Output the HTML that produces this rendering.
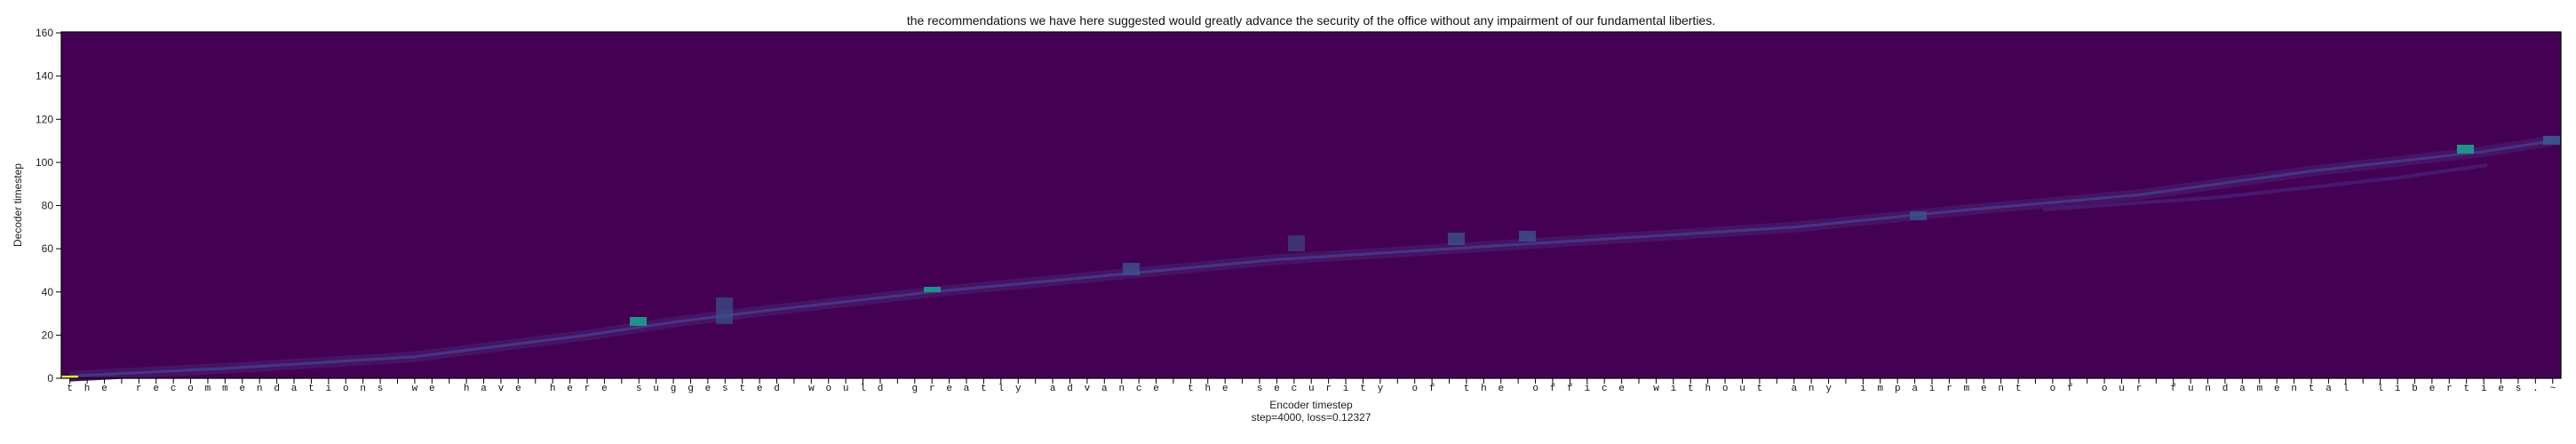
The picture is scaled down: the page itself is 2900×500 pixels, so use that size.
<!DOCTYPE html>
<html><head><meta charset="utf-8"><style>
html,body{margin:0;padding:0;background:#fff;}
body{width:2900px;height:500px;position:relative;overflow:hidden;font-family:"Liberation Sans",sans-serif;color:#111;}
.xt{position:absolute;left:75.4px;top:432px;font-family:"Liberation Mono",monospace;font-size:11px;letter-spacing:12.81px;white-space:pre;}
</style></head><body>
<svg width="2900" height="500" style="position:absolute;left:0;top:0">
<rect x="69" y="36" width="2814" height="390" fill="#440154"/>
<g fill="none" stroke-linejoin="round">
<polyline stroke="#471365" stroke-width="12" points="78.7,423.6 272.8,413.8 466.9,401.7 661,377.4 758,362.8 855.1,350.6 1049.2,328.8 1282.1,306.9 1437.4,292.3 1631.5,280.1 1825.7,268 2019.8,255.8 2213.9,236.4 2408,219.4 2602.1,192.6 2796.2,170.7 2873,158.6"/>
<polyline stroke="#453781" stroke-width="3" points="78.7,423.6 272.8,413.8 466.9,401.7 661,377.4 758,362.8 855.1,350.6 1049.2,328.8 1282.1,306.9 1437.4,292.3 1631.5,280.1 1825.7,268 2019.8,255.8 2213.9,236.4 2408,219.4 2602.1,192.6 2796.2,170.7 2873,158.6"/>
<polyline stroke="#46196e" stroke-width="4" points="2300,236 2500,222 2700,200 2800,186"/>
</g>
<rect x="69" y="423" width="19" height="3" fill="#fde725"/>
<rect x="709" y="357" width="19" height="10" fill="#21918c"/>
<rect x="806" y="335" width="19" height="30" fill="#3b528b" opacity="0.7"/>
<rect x="1040" y="323" width="19" height="6" fill="#21918c"/>
<rect x="1264" y="296" width="19" height="14" fill="#3b528b" opacity="0.8"/>
<rect x="1450" y="265" width="19" height="18" fill="#3b528b" opacity="0.6"/>
<rect x="1630" y="262" width="19" height="14" fill="#3b528b" opacity="0.8"/>
<rect x="1710" y="260" width="19" height="12" fill="#3b528b" opacity="0.8"/>
<rect x="2150" y="238" width="19" height="10" fill="#3b528b" opacity="0.8"/>
<rect x="2766" y="163" width="19" height="10" fill="#21918c"/>
<rect x="2863" y="153" width="19" height="10" fill="#3b528b"/>
<rect x="69" y="36" width="2814" height="390" fill="none" stroke="#000" stroke-width="1.2"/>
<g stroke="#000" stroke-width="1">
<line x1="63" y1="426" x2="69" y2="426"/><line x1="63" y1="377.4" x2="69" y2="377.4"/><line x1="63" y1="328.8" x2="69" y2="328.8"/><line x1="63" y1="280.1" x2="69" y2="280.1"/><line x1="63" y1="231.5" x2="69" y2="231.5"/><line x1="63" y1="182.9" x2="69" y2="182.9"/><line x1="63" y1="134.3" x2="69" y2="134.3"/><line x1="63" y1="85.7" x2="69" y2="85.7"/><line x1="63" y1="37" x2="69" y2="37"/>
<line x1="69" y1="429" x2="2883" y2="429" stroke-width="6" stroke-dasharray="1 18.41" stroke-dashoffset="-9.2"/>
</g>
<g font-size="12" text-anchor="end" fill="#222">
<text x="60" y="430">0</text><text x="60" y="381.4">20</text><text x="60" y="332.8">40</text><text x="60" y="284.1">60</text><text x="60" y="235.5">80</text><text x="60" y="186.9">100</text><text x="60" y="138.3">120</text><text x="60" y="89.7">140</text><text x="60" y="41">160</text>
</g>
<text x="24" y="231" font-size="12" text-anchor="middle" fill="#222" transform="rotate(-90 24 231)">Decoder timestep</text>
<text x="1476" y="28" font-size="14" text-anchor="middle" fill="#111">the recommendations we have here suggested would greatly advance the security of the office without any impairment of our fundamental liberties.</text>
<text x="1476" y="460" font-size="12" text-anchor="middle" fill="#222">Encoder timestep</text>
<text x="1476" y="474" font-size="12" text-anchor="middle" fill="#222">step=4000, loss=0.12327</text>
</svg>
<div class="xt">the recommendations we have here suggested would greatly advance the security of the office without any impairment of our fundamental liberties.~</div>
</body></html>
